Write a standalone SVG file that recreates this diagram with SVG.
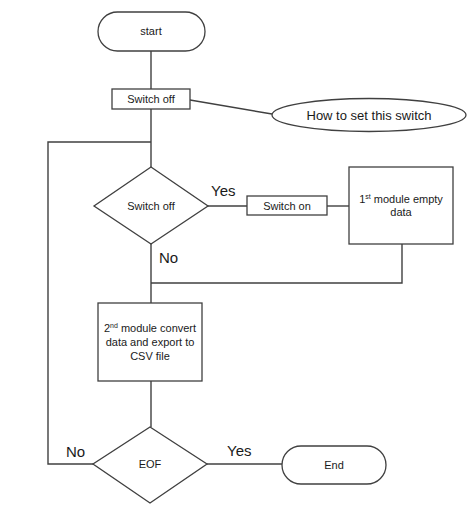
<svg xmlns="http://www.w3.org/2000/svg" width="474" height="513" viewBox="0 0 474 513">
<style>
.s{fill:#fff;stroke:#404040;stroke-width:1.3}
.c{fill:none;stroke:#404040;stroke-width:1.4}
text{font-family:"Liberation Sans",Arial,sans-serif;fill:#1a1a1a;text-anchor:middle}
.sm{font-size:11px}
.md{font-size:11px}
.lb{font-size:15px;text-anchor:start}
</style>
<rect width="474" height="513" fill="#fff"/>
<g id="connectors">
<polyline class="c" points="151,51 151,89"/>
<polyline class="c" points="151,109 151,167"/>
<polyline class="c" points="190,100 272,114"/>
<polyline class="c" points="151,142 48,142 48,464 94,464"/>
<polyline class="c" points="208,206 247,206"/>
<polyline class="c" points="327,206 349,206"/>
<polyline class="c" points="402,244 402,283 151,283"/>
<polyline class="c" points="151,244 151,303"/>
<polyline class="c" points="151,381 151,427"/>
<polyline class="c" points="207,464 282,464"/>
<text class="lb" x="211" y="196">Yes</text>
<text class="lb" x="159" y="263">No</text>
<text class="lb" x="66" y="457">No</text>
<text class="lb" x="227" y="456">Yes</text>
</g>
<g id="start">
<rect class="s" x="98" y="12" width="107" height="39" rx="19.5"/>
<text class="sm" x="151" y="35">start</text>
</g>
<g id="switchoff1">
<rect class="s" x="112" y="89" width="78" height="20"/>
<text class="sm" x="151" y="103">Switch off</text>
</g>
<g id="howto">
<ellipse class="s" cx="369" cy="115" rx="97" ry="16.5"/>
<text x="369" y="120" style="font-size:13px">How to set this switch</text>
</g>
<g id="decision1">
<polygon class="s" points="151,167 208,206 151,244 94,206"/>
<text class="sm" x="151" y="210">Switch off</text>
</g>
<g id="switchon">
<rect class="s" x="247" y="196" width="80" height="19"/>
<text class="sm" x="287" y="210">Switch on</text>
</g>
<g id="module1">
<rect class="s" x="349" y="167" width="104" height="77"/>
<text class="md" x="401" y="203">1<tspan font-size="7" dy="-4">st</tspan><tspan dy="4"> module empty</tspan></text>
<text class="md" x="401" y="216">data</text>
</g>
<g id="module2">
<rect class="s" x="98" y="303" width="104" height="78"/>
<text class="md" x="150" y="332">2<tspan font-size="7" dy="-4">nd</tspan><tspan dy="4"> module convert</tspan></text>
<text class="md" x="150" y="346">data and export to</text>
<text class="md" x="150" y="360">CSV file</text>
</g>
<g id="eof">
<polygon class="s" points="150,427 207,464 150,503 93,464"/>
<text class="sm" x="150" y="468">EOF</text>
</g>
<g id="end">
<rect class="s" x="282" y="446" width="104" height="38" rx="19"/>
<text class="sm" x="334" y="469">End</text>
</g>
</svg>
